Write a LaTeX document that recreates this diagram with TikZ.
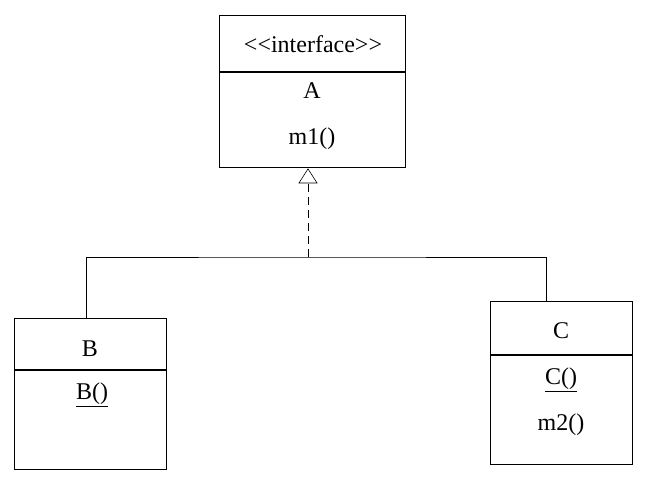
\documentclass[tikz,border=0pt]{standalone}
\usepackage{fontspec}
\setmainfont{Liberation Serif}
\usetikzlibrary{arrows.meta}

\begin{document}
\begin{tikzpicture}[x=1pt,y=-1pt,
>={Triangle[open,length=15pt,width=19pt]},semithick,black,text=black,
every node/.style={font=\fontsize{24}{28}\selectfont},
umlbox/.style={draw,line width=1.3pt,inner sep=0pt,anchor=north west}]

  \useasboundingbox (0,0) rectangle (652,496);

  % class boxes
  \node[umlbox,minimum width=186pt,minimum height=152pt] (A) at (219,15) {};
  \node[umlbox,minimum width=152pt,minimum height=151pt] (B) at (14,318) {};
  \node[umlbox,minimum width=142pt,minimum height=163pt] (C) at (490,301) {};

  % compartments
  \draw[line width=1.3pt] (A.north west) ++(0,57) -- ++(186,0);
  \draw[line width=1.3pt] (B.north west) ++(0,52) -- ++(152,0);
  \draw[line width=1.3pt] (C.north west) ++(0,54) -- ++(142,0);

  % texts
  \node (Astereo) at (313,44) {\textless\kern0pt\textless interface\textgreater\kern0pt\textgreater};
  \node (Aname)   at (312,91) {A};
  \node (Am1)     at (312,139) {m1()};
  \node (Bname)   at (90,349) {B};
  \node (Bctor)   at (92,395) {\underline{B()}};
  \node (Cname)   at (561,331) {C};
  \node (Cctor)   at (561,380) {\underline{C()}};
  \node (Cm2)     at (561,425) {m2()};

  % realization
  \coordinate (fork)  at (308,257);
  \coordinate (Bjoin) at (86,318);
  \coordinate (Cjoin) at (546,301);
  \draw[dash pattern=on 8pt off 5pt,->] (fork) -- (fork |- A.south);
  \draw (Bjoin) |- (fork) -| (Cjoin);
\end{tikzpicture}
\end{document}
